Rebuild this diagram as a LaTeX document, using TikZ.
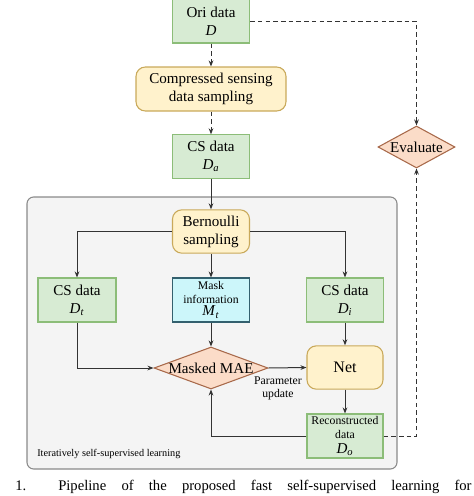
\documentclass[tikz,border=0pt]{standalone}
\usepackage{fontspec}
\setmainfont{Liberation Serif}
\usetikzlibrary{shapes.geometric,arrows.meta}
\definecolor{gfill}{HTML}{D7EBD3}
\definecolor{gdraw}{HTML}{8CBD78}
\definecolor{yfill}{HTML}{FFF2CC}
\definecolor{ydraw}{HTML}{C9A95A}
\definecolor{ofill}{HTML}{FBDCC8}
\definecolor{odraw}{HTML}{A8694A}
\definecolor{cfill}{HTML}{CCF6FA}
\definecolor{cdraw}{HTML}{33606E}
\definecolor{bgfill}{HTML}{F4F4F4}
\definecolor{bgdraw}{HTML}{8A8A8A}
\definecolor{lcol}{HTML}{333333}
\newcommand{\mainsz}{\fontsize{11.3}{13.5}\selectfont}
\newcommand{\smallsz}{\fontsize{8.8}{10.2}\selectfont}
\newcommand{\vi}[2]{\textit{#1}\textsubscript{\textit{#2}}}
\tikzset{
  box/.style={draw=gdraw, fill=gfill, line width=0.8pt, minimum width=57.75pt, minimum height=32.5pt, inner sep=1pt, align=center, font=\mainsz},
  ybox/.style={draw=ydraw, fill=yfill, line width=0.8pt, rounded corners=7pt, minimum width=57.75pt, minimum height=32.5pt, inner sep=1pt, align=center, font=\mainsz},
  cbox/.style={draw=cdraw, fill=cfill, line width=0.8pt, minimum width=57.75pt, minimum height=33pt, inner sep=1pt, align=center, font=\smallsz},
  odiam/.style={diamond, draw=odraw, fill=ofill, line width=0.8pt, inner sep=0pt, font=\mainsz},
  conn/.style={draw=lcol, line width=0.75pt, -{Stealth[length=4.5pt,width=3.5pt]}},
  dconn/.style={conn, dash pattern=on 3.4pt off 2.4pt},
  lbl/.style={font=\smallsz, align=center, inner sep=0pt}
}
\begin{document}
\begin{tikzpicture}[x=0.75pt,y=-0.75pt]
\useasboundingbox (0,0) rectangle (474,496);
\begin{scope}
\clip (0,0) rectangle (474,496);
% container
\draw[fill=bgfill, draw=bgdraw, line width=0.8pt, rounded corners=5pt] (27,197) rectangle (397,469);
\node[box, minimum height=33pt] (ori) at (211,21) {Ori data\\\textit{D}};
\node[ybox, minimum width=112.5pt, minimum height=33pt] (cs) at (211,89) {Compressed sensing\\data sampling};
\node[box] (da) at (211,156.5) {CS data\\\vi{D}{a}};
\node[ybox] (bern) at (211,231.5) {Bernoulli\\sampling};
\node[box, minimum width=58.5pt, minimum height=33pt] (dt) at (77,300) {CS data\\\vi{D}{t}};
\node[cbox] (mask) at (211,300) {Mask\\information\\[-1pt]{\mainsz\vi{M}{t}}};
\node[box, minimum height=33pt] (di) at (345,300) {CS data\\\vi{D}{i}};
\node[odiam, minimum width=85.5pt, minimum height=31.5pt] (mae) at (211,368) {\makebox[0pt]{Masked MAE}};
\node[ybox, minimum width=57pt, minimum height=32.5pt, font=\fontsize{12}{14}\selectfont] (net) at (345,367.5) {Net};
\node[box, minimum width=57pt, minimum height=33pt, font=\smallsz] (rec) at (345,436) {Reconstructed\\data\\[1pt]{\mainsz\vi{D}{o}}};
\node[odiam, minimum width=57.75pt, minimum height=31.5pt] (eval) at (416.5,147) {\makebox[0pt]{Evaluate}};
\node[lbl] (param) at (278,388.5) {Parameter\\update};
\node[lbl, font=\fontsize{7.7}{9}\selectfont, anchor=west] (iter) at (37,454) {Iteratively self-supervised learning};
% connectors
\draw[dconn] (ori) -- (cs);
\draw[dconn] (cs) -- (da);
\draw[conn] (da) -- (bern);
\draw[conn] (bern.west) -| (dt.north);
\draw[conn] (bern.east) -| (di.north);
\draw[conn] (bern) -- (mask);
\draw[conn] (dt.south) |- (mae.west);
\draw[conn] (mask) -- (mae);
\draw[conn] (mae.east) -- (net.west);
\draw[conn] (di) -- (net);
\draw[conn] (net) -- (rec);
\draw[conn] (rec.west) -| (mae.south);
\draw[dconn] (ori.east) -| (eval.north);
\draw[dconn] (rec.east) -| (eval.south);
% caption
\node[anchor=base west, inner sep=0pt, font=\fontsize{11}{13}\selectfont] (cap) at (15,490) {1.\hspace{24pt}\makebox[310pt][s]{Pipeline of the proposed fast self-supervised learning for}};
\end{scope}
\end{tikzpicture}
\end{document}
